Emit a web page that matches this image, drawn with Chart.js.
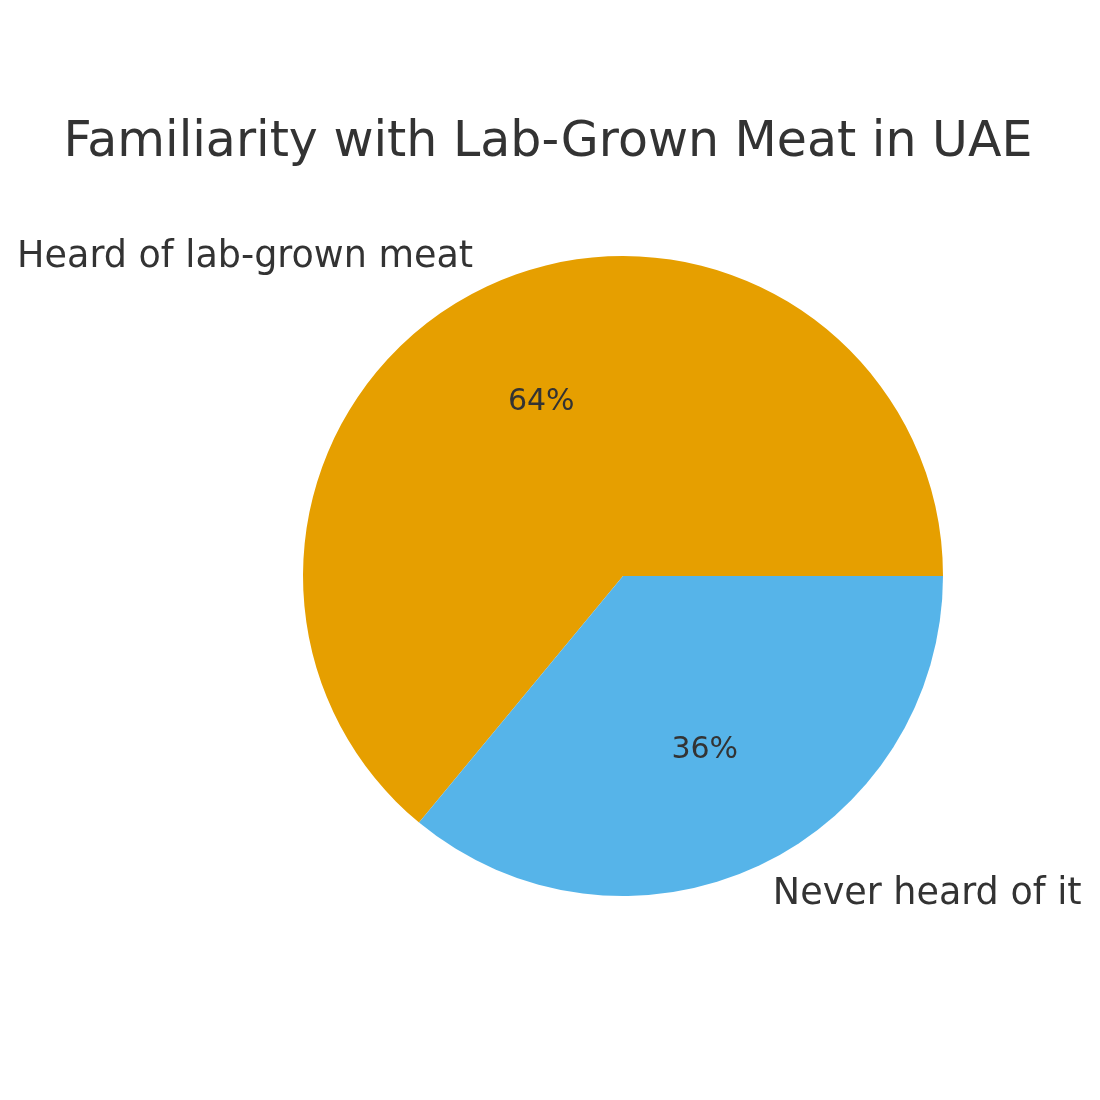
<!DOCTYPE html>
<html>
<head>
<meta charset="utf-8">
<script src="https://cdn.jsdelivr.net/npm/chart.js@4.4.1/dist/chart.umd.min.js"></script>
<style>
  html, body { margin: 0; padding: 0; background: #fff; }
  #wrap { width: 1100px; height: 1100px; }
</style>
</head>
<body>
<div id="wrap"><canvas id="grafica"></canvas></div>
<script>
const TITLE = "Familiarity with Lab-Grown Meat in UAE";
const labels = ["Heard of lab-grown meat", "Never heard of it"];
const values = [64, 36];
const colors = ["#E69F00", "#56B4E9"];

const FONT = "'DejaVu Sans', sans-serif";
const TEXT_COLOR = "#333333";

// estilo matplotlib: empieza a las 3 en punto, sentido antihorario
const total = values.reduce((a, b) => a + b, 0);
const rotation = 90 + 360 * (1 - values[0] / total);

const pieText = {
    id: "pieText",
    afterDraw(chart) {
        const ctx = chart.ctx;
        ctx.save();
        ctx.fillStyle = TEXT_COLOR;

        // titulo
        ctx.font = "49px " + FONT;
        ctx.textAlign = "center";
        ctx.textBaseline = "middle";
        ctx.fillText(TITLE, 548, 143);

        const meta = chart.getDatasetMeta(0);
        meta.data.forEach((arc, i) => {
            const p = arc.getProps(["x", "y", "startAngle", "endAngle", "outerRadius"], true);
            const mid = (p.startAngle + p.endAngle) / 2;
            const cos = Math.cos(mid), sin = Math.sin(mid);

            // etiqueta
            const lx = p.x + cos * p.outerRadius * 1.1;
            const ly = p.y + sin * p.outerRadius * 1.1;
            ctx.font = "36.5px " + FONT;
            ctx.textAlign = cos < 0 ? "right" : "left";
            ctx.textBaseline = "middle";
            ctx.fillText(labels[i], lx, ly);

            // porcentaje
            const px = p.x + cos * p.outerRadius * 0.6;
            const py = p.y + sin * p.outerRadius * 0.6;
            ctx.font = "30px " + FONT;
            ctx.textAlign = "center";
            ctx.fillText(Math.round(values[i] / total * 100) + "%", px, py);
        });
        ctx.restore();
    }
};

new Chart(document.getElementById("grafica"), {
    type: "pie",
    data: {
        labels: labels,
        datasets: [{
            data: values,
            backgroundColor: colors,
            borderWidth: 0
        }]
    },
    options: {
        responsive: true,
        maintainAspectRatio: false,
        animation: false,
        rotation: rotation,
        layout: { padding: { left: 303, right: 157, top: 256, bottom: 204 } },
        plugins: {
            legend: { display: false },
            title: { display: false },
            tooltip: { enabled: false }
        }
    },
    plugins: [pieText]
});
</script>
</body>
</html>
